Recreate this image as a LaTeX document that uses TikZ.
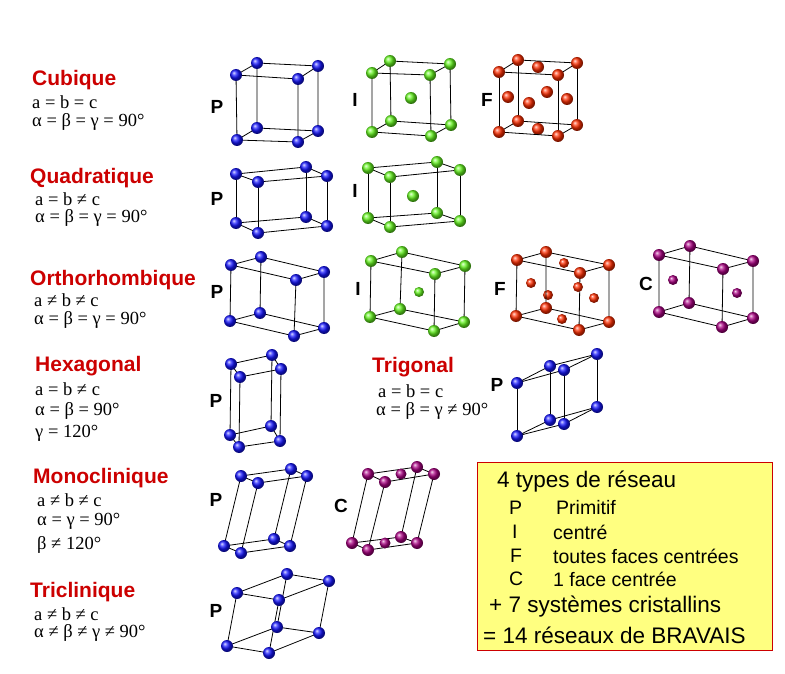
\documentclass[tikz,border=0pt]{standalone}
\usepackage{fontspec}
\newfontfamily\hv{Liberation Sans}
\newfontfamily\tm{Liberation Serif}
\definecolor{tred}{RGB}{204,0,0}
\definecolor{cblue}{RGB}{20,20,255}
\definecolor{cgreen}{RGB}{100,245,30}
\definecolor{cred}{RGB}{255,45,0}
\definecolor{cpurp}{RGB}{170,0,130}
\definecolor{boxy}{RGB}{255,255,128}
\tikzset{
 edge/.style={black,line width=0.8pt},
 title/.style={anchor=west,inner sep=0,text=tred,font=\hv\bfseries\fontsize{21}{22}\selectfont},
 eq/.style={anchor=west,inner sep=0,font=\tm\fontsize{18.5}{20}\selectfont},
 lab/.style={inner sep=0,font=\hv\bfseries\fontsize{19}{20}\selectfont},
 boxt/.style={anchor=west,inner sep=0,font=\hv\fontsize{22.5}{24}\selectfont},
 boxs/.style={anchor=west,inner sep=0,font=\hv\fontsize{19.5}{21}\selectfont},
}
\newcommand\ball[3][6]{\shade[ball color=#2] (#3) circle (#1);}
% #1 color #2 ftl #3 ftr #4 btl #5 btr #6 fbl #7 fbr #8 bbl #9 bbr
\newcommand\cell[9]{%
 \draw[edge] (#4)--(#5)--(#3)--(#2)--cycle;
 \draw[edge] (#8)--(#9)--(#7)--(#6)--cycle;
 \draw[edge] (#2)--(#6) (#3)--(#7) (#4)--(#8) (#5)--(#9);
 \ball{#1}{#4}\ball{#1}{#5}\ball{#1}{#8}\ball{#1}{#9}%
 \ball{#1}{#2}\ball{#1}{#3}\ball{#1}{#6}\ball{#1}{#7}}
\begin{document}
\begin{tikzpicture}[x=1pt,y=-1pt]
\useasboundingbox[fill=white] (0,0) rectangle (785,674);
% ---- text left
\node[title] (t1) at (32,80) {Cubique};
\node[eq] at (32,102) {a = b = c};
\node[eq] at (32,122) {α = β = γ = 90°};
\node[title] (t2) at (30,178) {Quadratique};
\node[eq] at (35,199) {a = b ≠ c};
\node[eq] at (35,218) {α = β = γ = 90°};
\node[title] (t3) at (30,280) {Orthorhombique};
\node[eq] at (34,300) {a ≠ b ≠ c};
\node[eq] at (34,320) {α = β = γ = 90°};
\node[title] (t4) at (35,366) {Hexagonal};
\node[eq] at (35,389) {a = b ≠ c};
\node[eq] at (35,411) {α = β = 90°};
\node[eq] at (35,433) {γ = 120°};
\node[title] (t5) at (372,367) {Trigonal};
\node[eq] at (378,391) {a = b = c};
\node[eq] at (376,411) {α = β = γ ≠ 90°};
\node[title] (t6) at (33,478) {Monoclinique};
\node[eq] at (37,500) {a ≠ b ≠ c};
\node[eq] at (37,521) {α = γ = 90°};
\node[eq] at (37,545) {β ≠ 120°};
\node[title] (t7) at (30,592) {Triclinique};
\node[eq] at (34,614) {a ≠ b ≠ c};
\node[eq] at (34,633) {α ≠ β ≠ γ ≠ 90°};
% ---- labels
\node[lab] (l1) at (217,107) {P};
\node[lab] (l2) at (355,100) {I};
\node[lab] (l3) at (487,100) {F};
\node[lab] (l4) at (217,199) {P};
\node[lab] (l5) at (355,191) {I};
\node[lab] (l6) at (217,292) {P};
\node[lab] (l7) at (358,289) {I};
\node[lab] (l8) at (500,289) {F};
\node[lab] (l9) at (646,284) {C};
\node[lab] (l10) at (216,401) {P};
\node[lab] (l11) at (497,385) {P};
\node[lab] (l12) at (216,500) {P};
\node[lab] (l13) at (341,506) {C};
\node[lab] (l14) at (216,611) {P};
% ---- cubic
\cell{cblue}{236,75}{298,79}{257,63}{318,66}{237,140}{298,142}{257,128}{318,131}
\ball{cgreen}{411,98}
\cell{cgreen}{372,73}{430,75}{390,61}{450,64}{372,132}{431,136}{391,121}{451,125}
\ball{cred}{547,92}\ball{cred}{538,67}\ball{cred}{508,97}\ball{cred}{567,99}\ball{cred}{538,129}
\cell{cred}{499,72}{558,75}{518,60}{577,63}{499,132}{558,136}{518,121}{577,125}
\ball{cred}{529,103}
% ---- quadratique
\cell{cblue}{258,182}{327,176}{236,174}{306,167}{258,233}{327,226}{236,223}{306,217}
\ball{cgreen}{413,196}
\cell{cgreen}{390,177}{460,170}{368,168}{437,162}{390,227}{460,221}{368,218}{437,213}
% ---- orthorhombic
\cell{cblue}{231,265}{296,280}{261,257}{324,272}{230,321}{294,336}{260,313}{324,328}
\ball[5]{cgreen}{419,292}
\cell{cgreen}{371,261}{435,274}{402,252}{465,266}{370,317}{434,331}{400,309}{464,322}
\ball[5]{cred}{548,295}\ball[5]{cred}{564,263}\ball[5]{cred}{531,283}\ball[5]{cred}{562,319}
\cell{cred}{517,260}{580,273}{546,252}{609,265}{516,316}{579,330}{546,308}{609,322}
\ball[5]{cred}{578,287}\ball[5]{cred}{594,298}
\ball[5]{cpurp}{673,280}
\cell{cpurp}{659,255}{723,269}{690,246}{753,261}{659,312}{722,327}{689,303}{753,318}
\ball[5]{cpurp}{737,293}
% ---- hexagonal
\cell{cblue}{240,377}{281,369}{231,364}{272,355}{239,447}{280,441}{230,435}{271,426}
% ---- trigonal
\cell{cblue}{517,383}{564,370}{550,366}{597,354}{517,436}{564,424}{550,420}{597,407}
% ---- monoclinic
\cell{cblue}{258,483}{307,476}{241,476}{291,469}{241,553}{290,546}{224,546}{274,539}
\cell{cpurp}{385,482}{434,474}{368,474}{417,467}{368,550}{417,543}{352,543}{401,537}
\ball[5.5]{cpurp}{401,474}\ball[5.5]{cpurp}{385,543}
% ---- triclinic
\cell{cblue}{279,600}{329,581}{237,593}{287,574}{269,653}{319,633}{227,646}{277,627}
% ---- box
\draw[fill=boxy,draw=tred,line width=1pt] (477,462) rectangle (772,650);
\node[boxt] (b1) at (497,482) {4 types de réseau};
\node[boxs] at (509,508) {P};\node[boxs] at (556,508) {Primitif};
\node[boxs] at (512,532) {I};\node[boxs] at (553,532) {centré};
\node[boxs] at (510,556) {F};\node[boxs] at (553,556) {toutes faces centrées};
\node[boxs] at (509,579) {C};\node[boxs] at (553,579) {1 face centrée};
\node[boxt] at (489,607) {+ 7 systèmes cristallins};
\node[boxt] at (483,635) {= 14 réseaux de BRAVAIS};
\end{tikzpicture}
\end{document}
